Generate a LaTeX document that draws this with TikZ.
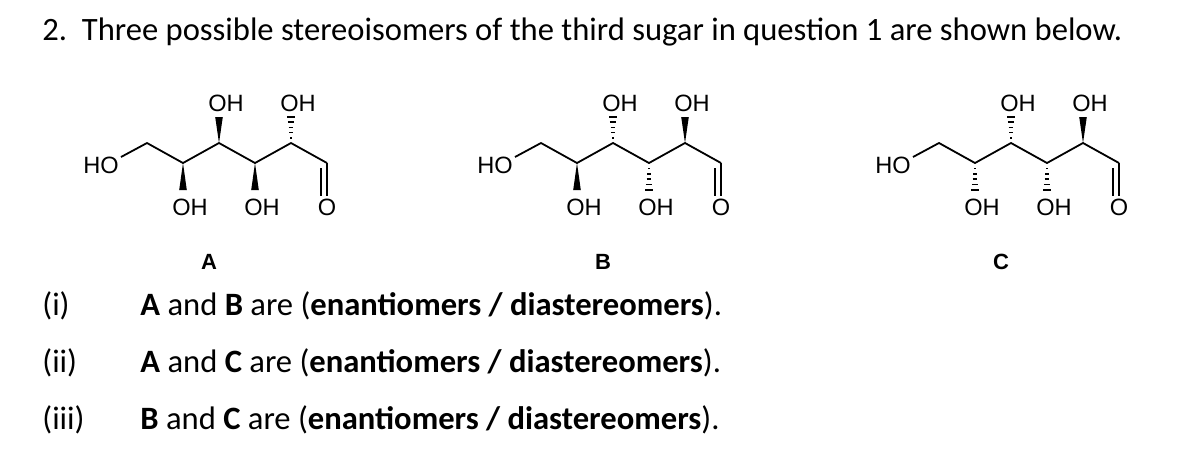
\documentclass[tikz,border=0pt]{standalone}
\usepackage{fontspec}
\usetikzlibrary{calc}
\setmainfont{Carlito}
\newfontfamily\molfont{Liberation Sans}
\begin{document}
\begin{tikzpicture}[x=0.5pt,y=-0.5pt,
  atom/.style={font=\molfont\fontsize{11.8}{13}\selectfont,inner sep=0pt},
  mlabel/.style={font=\molfont\bfseries\fontsize{11}{13}\selectfont,inner sep=0pt},
  txt/.style={font=\fontsize{16.3}{18}\selectfont,inner sep=0pt,anchor=base west},
  bond/.style={line width=0.9pt,line join=round}]
\useasboundingbox (0,0) rectangle (1178,456);
\newcommand\wedgeb[2]{\fill ($(#1)$) -- ($(#2)+(-3.8,0)$) -- ($(#2)+(3.8,0)$) -- cycle;}
\newcommand\hashb[2]{\foreach \t in {0.2,0.4,0.6,0.8,1.0}{\draw[line width=0.8pt] ($(#1)!\t!(#2)+(-3.8*\t,0)$) -- ($(#1)!\t!(#2)+(3.8*\t,0)$);}}
\newcommand\mol[7]{%
 \begin{scope}[xshift=#1*0.5pt]
 \node[atom] (#2ho) at (101,165) {HO};
 \coordinate (#2c1) at (147,143);
 \coordinate (#2c2) at (183,163);
 \coordinate (#2c3) at (219,143);
 \coordinate (#2c4) at (255,163);
 \coordinate (#2c5) at (291,143);
 \coordinate (#2c6) at (327,163);
 \coordinate (#2hoe) at (121,157);
 \draw[bond] (#2hoe) -- (#2c1) -- (#2c2) -- (#2c3) -- (#2c4) -- (#2c5) -- (#2c6);
 \node[atom] (#2o) at (327,207) {O};
 \coordinate (#2oa) at (327,196); \coordinate (#2ob) at (321,196); \coordinate (#2c6b) at (321,168);
 \draw[bond] (#2c6) -- (#2oa); \draw[bond] (#2c6b) -- (#2ob);
 \node[atom] (#2o2) at (190,207) {OH};
 \node[atom] (#2o3) at (226,103) {OH};
 \node[atom] (#2o4) at (262,207) {OH};
 \node[atom] (#2o5) at (298,103) {OH};
 \coordinate (#2e2) at (183,190); \coordinate (#2e3) at (219,117);
 \coordinate (#2e4) at (255,190); \coordinate (#2e5) at (291,117);
 #3{#2c2}{#2e2} #4{#2c3}{#2e3} #5{#2c4}{#2e4} #6{#2c5}{#2e5}
 \node[mlabel] (#2lab) at (209,262) {#7};
 \end{scope}}
\mol{0}{a}{\wedgeb}{\wedgeb}{\wedgeb}{\hashb}{A}
\mol{394}{b}{\wedgeb}{\hashb}{\hashb}{\wedgeb}{B}
\mol{792}{c}{\hashb}{\hashb}{\hashb}{\wedgeb}{C}
\node[txt] (title) at (42,40) {2.\ \ Three possible stereoisomers of the third sugar in question 1 are shown below.};
\node[txt] (r1) at (42,315) {(i)};
\node[txt] (r2) at (42,372) {(ii)};
\node[txt] (r3) at (42,429) {(iii)};
\node[txt] (t1) at (140,315) {\textbf{A} and \textbf{B} are (\textbf{enantiomers / diastereomers}).};
\node[txt] (t2) at (140,372) {\textbf{A} and \textbf{C} are (\textbf{enantiomers / diastereomers}).};
\node[txt] (t3) at (140,429) {\textbf{B} and \textbf{C} are (\textbf{enantiomers / diastereomers}).};
\end{tikzpicture}
\end{document}
